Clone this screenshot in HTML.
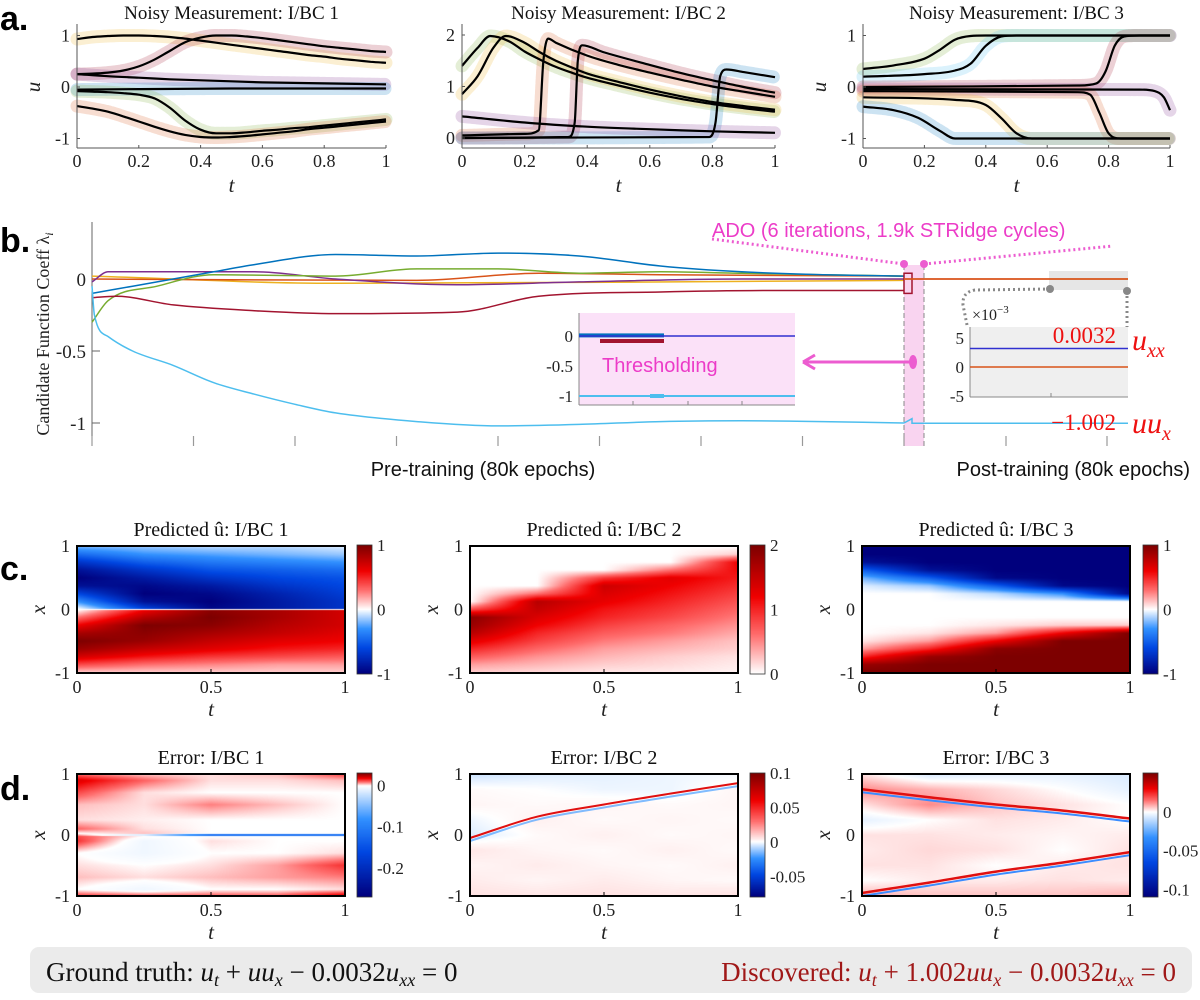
<!DOCTYPE html>
<html><head><meta charset="utf-8">
<style>
html,body{margin:0;padding:0;background:#fff;}
#root{position:relative;width:1200px;height:1000px;overflow:hidden;}
svg{position:absolute;left:0;top:0;}
canvas{position:absolute;}
.serif{font-family:"Liberation Serif",serif;}
.sans{font-family:"Liberation Sans",sans-serif;}
</style></head>
<body>
<div id="root">
<svg id="svg" width="1200" height="1000" viewBox="0 0 1200 1000">
  <g class="sans" font-weight="bold" font-size="34" fill="#000">
    <text x="0" y="30">a.</text>
    <text x="0" y="252">b.</text>
    <text x="0" y="580">c.</text>
    <text x="0" y="800">d.</text>
  </g>
  <g id="gA"></g>
  <g id="gB"></g>
  <g id="gCD"></g>
  <g>
    <rect x="30" y="947" width="1162" height="46" rx="9" fill="#ebebeb"/>
    <text x="46" y="981" class="serif" font-size="27" fill="#111">Ground truth: <tspan font-style="italic">u</tspan><tspan font-style="italic" font-size="18" dy="5">t</tspan><tspan dy="-5"> + </tspan><tspan font-style="italic">uu</tspan><tspan font-style="italic" font-size="18" dy="5">x</tspan><tspan dy="-5"> − 0.0032</tspan><tspan font-style="italic">u</tspan><tspan font-style="italic" font-size="18" dy="5">xx</tspan><tspan dy="-5"> = 0</tspan></text>
    <text x="1176" y="981" text-anchor="end" class="serif" font-size="27" fill="#a01818">Discovered: <tspan font-style="italic">u</tspan><tspan font-style="italic" font-size="18" dy="5">t</tspan><tspan dy="-5"> + 1.002</tspan><tspan font-style="italic">uu</tspan><tspan font-style="italic" font-size="18" dy="5">x</tspan><tspan dy="-5"> − 0.0032</tspan><tspan font-style="italic">u</tspan><tspan font-style="italic" font-size="18" dy="5">xx</tspan><tspan dy="-5"> = 0</tspan></text>
  </g>
</svg>
</div>
<script>
// ================= DATA =================
const a1Yellow=[[0,0.93],[0.05,0.97],[0.1,0.99],[0.15,1.0],[0.2,1.0],[0.25,0.99],[0.3,0.97],[0.35,0.94],[0.4,0.9],[0.45,0.86],[0.5,0.82],[0.55,0.78],[0.6,0.74],[0.65,0.7],[0.7,0.66],[0.75,0.62],[0.8,0.59],[0.85,0.55],[0.9,0.52],[0.95,0.49],[1,0.47]];
const a1Maroon=[[0,0.25],[0.05,0.26],[0.1,0.28],[0.15,0.32],[0.2,0.4],[0.25,0.53],[0.3,0.7],[0.35,0.87],[0.4,0.96],[0.45,1.0],[0.5,1.0],[0.55,0.98],[0.6,0.95],[0.65,0.91],[0.7,0.87],[0.75,0.83],[0.8,0.79],[0.85,0.76],[0.9,0.73],[0.95,0.7],[1,0.68]];
const a1Purple=[[0,0.25],[0.1,0.21],[0.2,0.18],[0.3,0.15],[0.4,0.13],[0.5,0.11],[0.6,0.09],[0.7,0.08],[0.8,0.07],[0.9,0.06],[1,0.05]];
const a1Blue=[[0,-0.05],[0.2,-0.04],[0.5,-0.03],[0.8,-0.03],[1,-0.03]];
const a1Green=[[0,-0.08],[0.05,-0.09],[0.1,-0.1],[0.15,-0.12],[0.2,-0.15],[0.25,-0.22],[0.3,-0.4],[0.35,-0.65],[0.4,-0.83],[0.45,-0.9],[0.5,-0.9],[0.55,-0.88],[0.6,-0.85],[0.65,-0.83],[0.7,-0.8],[0.75,-0.78],[0.8,-0.75],[0.85,-0.72],[0.9,-0.69],[0.95,-0.66],[1,-0.63]];
const a1Orange=[[0,-0.37],[0.05,-0.42],[0.1,-0.48],[0.15,-0.57],[0.2,-0.67],[0.25,-0.77],[0.3,-0.86],[0.35,-0.93],[0.4,-0.97],[0.45,-0.98],[0.5,-0.97],[0.55,-0.95],[0.6,-0.92],[0.65,-0.89],[0.7,-0.86],[0.75,-0.82],[0.8,-0.79],[0.85,-0.76],[0.9,-0.73],[0.95,-0.7],[1,-0.67]];

const a2Green=[[0,1.4],[0.05,1.75],[0.09,1.98],[0.15,1.88],[0.2,1.68],[0.25,1.52],[0.3,1.38],[0.35,1.27],[0.4,1.17],[0.5,1.02],[0.6,0.88],[0.7,0.76],[0.8,0.66],[0.9,0.58],[1,0.51]];
const a2Yellow=[[0,0.85],[0.05,1.2],[0.1,1.75],[0.14,1.98],[0.2,1.85],[0.25,1.66],[0.3,1.5],[0.35,1.37],[0.4,1.25],[0.5,1.09],[0.6,0.94],[0.7,0.81],[0.8,0.7],[0.9,0.62],[1,0.55]];
const a2Red=[[0,0.05],[0.2,0.08],[0.245,0.15],[0.26,1.5],[0.275,1.93],[0.3,1.85],[0.4,1.6],[0.5,1.42],[0.6,1.27],[0.7,1.13],[0.8,1.0],[0.9,0.9],[1,0.8]];
const a2Maroon=[[0,0.0],[0.34,0.02],[0.36,0.3],[0.37,1.5],[0.385,1.8],[0.45,1.67],[0.6,1.42],[0.7,1.26],[0.8,1.12],[0.9,0.99],[1,0.88]];
const a2Blue=[[0,0.0],[0.79,0.02],[0.81,0.3],[0.825,1.2],[0.845,1.33],[0.9,1.28],[1,1.18]];
const a2Purple=[[0,0.42],[0.2,0.3],[0.4,0.22],[0.6,0.17],[0.8,0.13],[1,0.1]];

const a3Green=[[0,0.35],[0.1,0.42],[0.2,0.55],[0.25,0.72],[0.3,0.92],[0.35,0.99],[0.4,1],[1,1]];
const a3Cyan=[[0,0.2],[0.2,0.25],[0.3,0.32],[0.35,0.45],[0.4,0.8],[0.45,0.98],[0.5,1],[1,1]];
const a3Maroon=[[0,0.0],[0.7,0.03],[0.76,0.07],[0.79,0.3],[0.82,0.8],[0.85,0.98],[0.9,1],[1,1]];
const a3Purple=[[0,-0.04],[0.9,-0.05],[0.95,-0.08],[0.98,-0.2],[1,-0.45]];
const a3Orange=[[0,-0.08],[0.7,-0.1],[0.74,-0.15],[0.77,-0.5],[0.8,-0.9],[0.84,-1],[1,-1]];
const a3Yellow=[[0,-0.2],[0.3,-0.25],[0.4,-0.35],[0.45,-0.6],[0.5,-0.9],[0.55,-1],[1,-1]];
const a3Blue=[[0,-0.38],[0.1,-0.45],[0.18,-0.6],[0.25,-0.85],[0.3,-1],[1,-1]];

const aXTicks=[0,0.2,0.4,0.6,0.8,1];
const aXTickLabels=["0","0.2","0.4","0.6","0.8","1"];
const a1YTicks=[1,0,-1];
const a2YTicks=[2,1,0];
const a3YTicks=[1,0,-1];

const bCyan=[[0,-0.05],[0.003,-0.25],[0.02,-0.4],[0.05,-0.5],[0.1,-0.6],[0.15,-0.72],[0.2,-0.8],[0.25,-0.87],[0.3,-0.93],[0.4,-0.99],[0.5,-1.02],[0.6,-1.01],[0.7,-0.99],[0.8,-0.985],[0.9,-0.99],[1,-1.0]];
const bBlue=[[0,-0.1],[0.05,-0.05],[0.1,0.0],[0.15,0.05],[0.2,0.1],[0.3,0.17],[0.4,0.16],[0.5,0.18],[0.6,0.16],[0.7,0.09],[0.8,0.05],[0.9,0.03],[1,0.02]];
const bGreen=[[0,-0.3],[0.02,-0.15],[0.08,-0.05],[0.15,0.03],[0.3,0.02],[0.4,0.07],[0.5,0.07],[0.6,0.04],[0.7,0.05],[0.8,0.04],[0.9,0.03],[1,0.02]];
const bMaroon=[[0,-0.13],[0.03,-0.12],[0.1,-0.18],[0.2,-0.22],[0.3,-0.24],[0.45,-0.23],[0.55,-0.12],[0.7,-0.09],[0.85,-0.08],[1,-0.08]];
const bPurple=[[0,-0.02],[0.02,0.05],[0.2,0.05],[0.3,0.0],[0.45,-0.04],[0.6,-0.02],[0.8,0.0],[1,0.0]];
const bOrange=[[0,0.0],[0.4,-0.01],[0.55,0.04],[0.7,0.03],[1,0.02]];
const bYellow=[[0,0.02],[0.3,-0.03],[1,-0.01]];
const bPostUxx=0.0032;
const bPostUUx=-1.002;
const bYTicks=[0,-0.5,-1];
const bInsetYTicks=[5,0,-5];

const hmT=[0,0.25,0.5,0.75,1];
const c1X=[1,0.875,0.75,0.625,0.5,0.375,0.25,0.125,0.01,-0.01,-0.125,-0.25,-0.375,-0.5,-0.625,-0.75,-0.875,-1];
const c1V=[[-0.2,-0.15,-0.1,-0.1,-0.05],[-0.45,-0.3,-0.25,-0.2,-0.15],[-0.7,-0.5,-0.4,-0.35,-0.3],[-0.9,-0.7,-0.55,-0.5,-0.45],[-1,-0.85,-0.7,-0.6,-0.55],[-0.9,-0.95,-0.85,-0.7,-0.6],[-0.6,-1,-0.95,-0.8,-0.65],[-0.3,-0.9,-1,-0.85,-0.7],[0,-0.6,-0.95,-0.85,-0.7],[0,0.6,0.95,0.85,0.7],[0.3,0.8,1,0.85,0.7],[0.6,1,0.95,0.8,0.7],[0.85,0.95,0.85,0.75,0.65],[1,0.9,0.75,0.65,0.6],[0.9,0.75,0.65,0.55,0.5],[0.7,0.55,0.45,0.4,0.35],[0.4,0.3,0.25,0.2,0.2],[0.1,0.1,0.1,0.1,0.1]];
const c2X=[1,0.875,0.75,0.625,0.5,0.375,0.25,0.125,0,-0.125,-0.25,-0.375,-0.5,-0.625,-0.75,-0.875,-1];
const c2V=[[0,0,0,0,0],[0,0,0,0,0.2],[0,0,0,0,1.2],[0,0,0,0.6,1.15],[0,0,0.9,1.3,1.05],[0,0,1.45,1.2,0.95],[0,0.6,1.35,1.1,0.85],[0,1.6,1.25,1.0,0.75],[0.8,1.5,1.1,0.9,0.65],[1.9,1.35,1.0,0.8,0.55],[1.8,1.2,0.85,0.65,0.45],[1.6,1.0,0.7,0.55,0.35],[1.3,0.85,0.55,0.4,0.25],[1.0,0.65,0.4,0.3,0.2],[0.7,0.45,0.3,0.2,0.12],[0.4,0.3,0.2,0.15,0.08],[0.2,0.15,0.1,0.08,0.05]];
const c3X=c2X;
const c3V=[[-1,-1,-1,-1,-1],[-1,-1,-1,-1,-1],[-0.9,-1,-1,-1,-1],[-0.5,-0.9,-1,-1,-1],[-0.2,-0.5,-0.95,-1,-1],[-0.05,-0.15,-0.5,-0.95,-1],[0,0,-0.1,-0.3,-0.95],[0,0,0,0,0],[0,0,0,0,0],[0,0,0,0,0],[0,0,0.05,0.1,0.1],[0,0.05,0.2,0.6,1],[0.05,0.2,0.6,1,1],[0.2,0.5,0.95,1,1],[0.5,0.9,1,1,1],[0.9,1,1,1,1],[1,1,1,1,1]];
const d1X=[1,0.9,0.7,0.5,0.25,0.1,0.025,0,-0.025,-0.1,-0.3,-0.5,-0.7,-0.9,-1];
const d1V=[[0.01,0.004,0.002,0.004,0.012],[0.02,0.01,0.002,0.002,0.004],[0.012,0.002,0,0,0],[0.004,0.002,0.008,0.004,0],[0.002,0.001,0,0,0],[0.01,0.002,0,0,0],[0,0.004,0,0,0],[0.006,-0.02,-0.17,-0.17,-0.17],[0.012,0,0,0,0],[0.014,-0.006,0.002,0,0],[0,-0.006,0,0,0.002],[0.002,0,0.002,0.006,0.014],[0.004,0.002,0.004,0.006,0.008],[0,-0.006,0,0,0.002],[0.012,0.01,0.01,0.01,0.02]];
const d2X=[1,0.75,0.5,0.25,0,-0.25,-0.5,-0.75,-1];
const d2V=[[-0.006,-0.004,-0.003,-0.002,-0.001],[0.001,0,-0.002,-0.002,0.002],[0.002,0.001,0.002,0.001,0.002],[-0.002,0.003,0.001,0.002,0.001],[-0.004,0.001,0.003,0.001,0.002],[0.005,0.002,0.001,0.003,0.001],[0.002,0.004,0.002,0.001,0.003],[0.004,0.002,0.004,0.002,0.001],[0.006,0.005,0.006,0.005,0.006]];
const d3X=d2X;
const d3V=[[0.003,-0.006,-0.004,-0.004,-0.006],[0.012,0.008,0.004,0,-0.004],[0.003,0.012,0.006,0.003,0],[-0.004,0,0.003,0.002,0],[0.003,0.003,0.002,0.001,0.002],[0.002,0.004,0.003,0,0.003],[0.003,0.003,0,0.002,0.003],[0,0.002,0.002,0.003,0.002],[0.008,0.006,0.006,0.006,0.008]];
const d2Front=[-0.05,0.3,0.5,0.68,0.85];
const d3FrontUpper=[0.75,0.62,0.5,0.4,0.27];
const d3FrontLower=[-0.95,-0.78,-0.6,-0.45,-0.28];

// ================= HELPERS =================
const NS="http://www.w3.org/2000/svg";
function mk(parent,tag,attrs,text){const e=document.createElementNS(NS,tag);for(const k in attrs)e.setAttribute(k,attrs[k]);if(text!==undefined)e.textContent=text;parent.appendChild(e);return e;}
function smoothPath(pts){
  const n=pts.length;if(n<3)return linePath(pts);
  const dx=[],dy=[],m=[];
  for(let i=0;i<n-1;i++){dx.push(pts[i+1][0]-pts[i][0]);dy.push(pts[i+1][1]-pts[i][1]);m.push(dy[i]/dx[i]);}
  const tg=[m[0]];
  for(let i=1;i<n-1;i++){tg.push(m[i-1]*m[i]<=0?0:(m[i-1]+m[i])/2);}
  tg.push(m[n-2]);
  for(let i=0;i<n-1;i++){
    if(m[i]===0){tg[i]=0;tg[i+1]=0;continue;}
    const a=tg[i]/m[i],b=tg[i+1]/m[i],s=a*a+b*b;
    if(s>9){const t=3/Math.sqrt(s);tg[i]=t*a*m[i];tg[i+1]=t*b*m[i];}
  }
  let d="M"+pts[0][0].toFixed(1)+","+pts[0][1].toFixed(1);
  for(let i=0;i<n-1;i++){
    const h=dx[i]/3;
    d+=" C"+(pts[i][0]+h).toFixed(1)+","+(pts[i][1]+tg[i]*h).toFixed(1)+" "+(pts[i+1][0]-h).toFixed(1)+","+(pts[i+1][1]-tg[i+1]*h).toFixed(1)+" "+pts[i+1][0].toFixed(1)+","+pts[i+1][1].toFixed(1);
  }
  return d;
}
function linePath(pts){return pts.map((p,i)=>(i?"L":"M")+p[0].toFixed(1)+","+p[1].toFixed(1)).join(" ");}
const COL={blue:"#0072BD",orange:"#D95319",yellow:"#EDB120",purple:"#7E2F8E",green:"#77AC30",cyan:"#4DBEEE",maroon:"#A2142F"};

// ================= PANEL A =================
const gA=document.getElementById("gA");
const aPlots=[
 {x0:77,x1:386,y0:87,k:51.5,title:"Noisy Measurement: I/BC 1",yt:a1YTicks,series:[["yellow",a1Yellow],["maroon",a1Maroon],["purple",a1Purple],["blue",a1Blue],["green",a1Green],["orange",a1Orange]]},
 {x0:462,x1:775,y0:138,k:51.5,title:"Noisy Measurement: I/BC 2",yt:a2YTicks,series:[["green",a2Green],["yellow",a2Yellow],["orange",a2Red],["maroon",a2Maroon],["blue",a2Blue],["purple",a2Purple]]},
 {x0:863,x1:1170,y0:87,k:51.5,title:"Noisy Measurement: I/BC 3",yt:a3YTicks,series:[["green",a3Green],["cyan",a3Cyan],["maroon",a3Maroon],["purple",a3Purple],["orange",a3Orange],["yellow",a3Yellow],["blue",a3Blue]]}
];
aPlots.forEach((P,pi)=>{
  const g=mk(gA,"g",{});
  
  
  const sx=t=>P.x0+t*(P.x1-P.x0), sy=u=>P.y0-u*P.k;
  const tt=mk(g,"text",{x:(P.x0+P.x1)/2,y:19,"text-anchor":"middle","font-size":19,class:"serif",fill:"#111"},P.title);
  
  
  P.series.forEach(([c,data])=>{
    const pts=data.map(p=>[sx(p[0]),sy(p[1])]);
    const band=mk(g,"path",{d:smoothPath(pts),fill:"none",stroke:COL[c],"stroke-width":13,"stroke-opacity":0.2,"stroke-linecap":"round","stroke-dasharray":"3,2"});
    
    
  });
  P.series.forEach(([c,data])=>{
    const pts=data.map(p=>[sx(p[0]),sy(p[1])]);
    const ln=mk(g,"path",{d:smoothPath(pts),fill:"none",stroke:"#000","stroke-width":2.2});
    
    
  });
  const axB=148;
  mk(g,"line",{x1:P.x0,y1:axB,x2:P.x1,y2:axB,stroke:"#555","stroke-width":1});
  mk(g,"line",{x1:P.x0,y1:24,x2:P.x0,y2:axB,stroke:"#555","stroke-width":1});
  aXTicks.forEach((t,i)=>{
    mk(g,"line",{x1:sx(t),y1:axB,x2:sx(t),y2:axB-3,stroke:"#555"});
    const l=mk(g,"text",{x:sx(t),y:167,"text-anchor":"middle","font-size":18,class:"serif",fill:"#222"},aXTickLabels[i]);
    
    
  });
  P.yt.forEach(u=>{
    mk(g,"line",{x1:P.x0,y1:sy(u),x2:P.x0+3,y2:sy(u),stroke:"#555"});
    const l=mk(g,"text",{x:P.x0-7,y:sy(u)+6,"text-anchor":"end","font-size":18,class:"serif",fill:"#222"},String(u));
    
    
  });
  const xl=mk(g,"text",{x:(P.x0+P.x1)/2,y:192,"text-anchor":"middle","font-size":21,"font-style":"italic",class:"serif",fill:"#222"},"t");
  
  
  if(pi!==1){
    const yl=mk(g,"text",{x:P.x0-42,y:P.y0+5,"text-anchor":"middle","font-size":21,"font-style":"italic",class:"serif",fill:"#222",transform:"rotate(-90 "+(P.x0-42)+" "+(P.y0)+")"},"u");
    
    
  }
});

// ================= PANEL B =================
const gB=document.getElementById("gB");
const bx=f=>92+f*812, by=v=>279-v*144;
const band=mk(gB,"rect",{x:904,y:265,width:20,height:181,fill:"#f7c9ec",opacity:0.8});


[904,924].forEach(x=>{const l=mk(gB,"line",{x1:x,y1:265,x2:x,y2:446,stroke:"#888","stroke-dasharray":"5,3"});});
mk(gB,"line",{x1:92,y1:222,x2:92,y2:446,stroke:"#666"});
for(let i=0;i<=8;i++){mk(gB,"line",{x1:92+i*101.5,y1:436,x2:92+i*101.5,y2:446,stroke:"#999","stroke-width":1.2});}
[1006,1107].forEach(x=>mk(gB,"line",{x1:x,y1:436,x2:x,y2:446,stroke:"#999","stroke-width":1.2}));
bYTicks.forEach(v=>{
  mk(gB,"line",{x1:92,y1:by(v),x2:100,y2:by(v),stroke:"#666"});
  const l=mk(gB,"text",{x:86,y:by(v)+7,"text-anchor":"end","font-size":19,class:"serif",fill:"#222"},String(v));
  
  
});
const byl=mk(gB,"text",{x:49,y:334,"text-anchor":"middle","font-size":18,class:"serif",fill:"#222",transform:"rotate(-90 49 334)"},"Candidate Function Coeff λ");


mk(byl,"tspan",{"font-size":12,"font-style":"italic",dy:4},"i");
const bSeries=[["yellow",bYellow],["orange",bOrange],["purple",bPurple],["green",bGreen],["maroon",bMaroon],["blue",bBlue],["cyan",bCyan]];
bSeries.forEach(([c,data])=>{
  const p=mk(gB,"path",{d:smoothPath(data.map(q=>[bx(q[0]),by(q[1])])),fill:"none",stroke:COL[c],"stroke-width":1.5});
  
  
});
mk(gB,"rect",{x:904,y:by(0.04),width:8,height:by(-0.1)-by(0.04),fill:"none",stroke:COL.maroon,"stroke-width":1.5});
const postO=mk(gB,"line",{x1:904,y1:by(0),x2:1128,y2:by(0),stroke:COL.orange,"stroke-width":1.8});


const postC=mk(gB,"path",{d:"M904,"+by(-1.0)+" L912,"+by(-0.97)+" L912,"+by(bPostUUx)+" L1128,"+by(bPostUUx),fill:"none",stroke:COL.cyan,"stroke-width":1.5});


const ado=mk(gB,"text",{x:712,y:237,"font-size":20,class:"sans",fill:"#ec3cc8"},"ADO (6 iterations, 1.9k STRidge cycles)");


mk(gB,"line",{x1:712,y1:239,x2:904,y2:264,stroke:"#ec5cd0","stroke-width":3,"stroke-dasharray":"2,3"});
mk(gB,"line",{x1:924,y1:264,x2:1113,y2:246,stroke:"#ec5cd0","stroke-width":3,"stroke-dasharray":"2,3"});
mk(gB,"circle",{cx:904,cy:264,r:4,fill:"#ec5cd0"});
mk(gB,"circle",{cx:924,cy:264,r:4,fill:"#ec5cd0"});
const ins=mk(gB,"g",{});


const iy=v=>336-v*60;
mk(ins,"rect",{x:579,y:313,width:216,height:92,fill:"#fbe1f8"});
mk(ins,"line",{x1:579,y1:313,x2:579,y2:405,stroke:"#888"});
mk(ins,"line",{x1:579,y1:405,x2:795,y2:405,stroke:"#888"});
[633,688,742].forEach(x=>mk(ins,"line",{x1:x,y1:405,x2:x,y2:401,stroke:"#888"}));
bYTicks.forEach(v=>{const l=mk(ins,"text",{x:573,y:iy(v)+6,"text-anchor":"end","font-size":17,class:"serif",fill:"#222"},String(v));});
mk(ins,"rect",{x:579,y:iy(0.01)-2,width:85,height:4,fill:COL.blue});
mk(ins,"rect",{x:600,y:iy(-0.05),width:64,height:4,fill:COL.maroon});
mk(ins,"line",{x1:579,y1:iy(0),x2:795,y2:iy(0),stroke:"#3030d0","stroke-width":1.5});
mk(ins,"line",{x1:579,y1:iy(-1),x2:795,y2:iy(-1),stroke:COL.cyan,"stroke-width":2});
mk(ins,"rect",{x:650,y:iy(-1)-2,width:14,height:4,fill:COL.cyan});
const th=mk(ins,"text",{x:602,y:372,"font-size":20,class:"sans",fill:"#ec3cc8"},"Thresholding");


const arr=mk(gB,"g",{});


mk(arr,"line",{x1:806,y1:362,x2:913,y2:362,stroke:"#ec5cd0","stroke-width":3});
mk(arr,"path",{d:"M803,362 L815,355 M803,362 L815,369",stroke:"#ec5cd0","stroke-width":3,fill:"none"});
mk(arr,"ellipse",{cx:913,cy:362,rx:4,ry:7,fill:"#ec5cd0"});
const zi=mk(gB,"g",{});


mk(zi,"rect",{x:1049,y:271,width:79,height:19,fill:"#e6e6e6"});
mk(zi,"line",{x1:1049,y1:by(0),x2:1128,y2:by(0),stroke:COL.orange,"stroke-width":1.8});
mk(zi,"path",{d:"M1050,289 L975,290 Q962,292 963,305 L967,325",fill:"none",stroke:"#888","stroke-width":3,"stroke-dasharray":"2,3"});
mk(zi,"path",{d:"M1127,291 L1127,327",fill:"none",stroke:"#888","stroke-width":3,"stroke-dasharray":"2,3"});
mk(zi,"circle",{cx:1050,cy:289,r:4,fill:"#888"});
mk(zi,"circle",{cx:1127,cy:291,r:4,fill:"#888"});
const zy=v=>367-v*5.8;
mk(zi,"rect",{x:970,y:327,width:158,height:70,fill:"#efefef"});
mk(zi,"line",{x1:970,y1:327,x2:970,y2:397,stroke:"#888"});
mk(zi,"line",{x1:970,y1:397,x2:1128,y2:397,stroke:"#888"});
mk(zi,"line",{x1:1051,y1:397,x2:1051,y2:393,stroke:"#888"});
bInsetYTicks.forEach(v=>{const l=mk(zi,"text",{x:964,y:zy(v)+6,"text-anchor":"end","font-size":17,class:"serif",fill:"#222"},String(v));});
mk(zi,"line",{x1:970,y1:zy(bPostUxx*1000),x2:1128,y2:zy(bPostUxx*1000),stroke:"#3030d0","stroke-width":1.5});
mk(zi,"line",{x1:970,y1:zy(0),x2:1128,y2:zy(0),stroke:COL.orange,"stroke-width":1.5});
const sc=mk(zi,"text",{x:972,y:320,"font-size":16,class:"serif",fill:"#222"},"×10");
mk(sc,"tspan",{dy:-7,"font-size":11},"−3");


const v1=mk(gB,"text",{x:1116,y:343,"text-anchor":"end","font-size":23,class:"serif",fill:"#ee1111"},bPostUxx.toFixed(4));


const v2=mk(gB,"text",{x:1116,y:430,"text-anchor":"end","font-size":23,class:"serif",fill:"#ee1111"},"−"+Math.abs(bPostUUx).toFixed(3));


const t1=mk(gB,"text",{x:1132,y:350,"font-size":30,"font-style":"italic",class:"serif",fill:"#ee1111"},"u");
mk(t1,"tspan",{"font-size":20,dy:7},"xx");


const t2=mk(gB,"text",{x:1132,y:433,"font-size":30,"font-style":"italic",class:"serif",fill:"#ee1111"},"uu");
mk(t2,"tspan",{"font-size":20,dy:7},"x");


const pre=mk(gB,"text",{x:483,y:476,"text-anchor":"middle","font-size":20,class:"sans",fill:"#111"},"Pre-training (80k epochs)");


const post=mk(gB,"text",{x:1190,y:476,"text-anchor":"end","font-size":20,class:"sans",fill:"#111"},"Post-training (80k epochs)");



// ================= PANELS C & D =================
const stops=[[-1,[0,0,125]],[-0.6,[0,70,225]],[-0.3,[50,145,255]],[0,[255,255,255]],[0.3,[255,110,110]],[0.6,[240,0,0]],[1,[125,0,0]]];
function cmap(s){s=Math.max(-1,Math.min(1,s));for(let i=0;i<stops.length-1;i++){const a=stops[i],b=stops[i+1];if(s<=b[0]){const f=(s-a[0])/(b[0]-a[0]);return a[1].map((c,j)=>Math.round(c+(b[1][j]-c)*f));}}return stops[stops.length-1][1];}
function norm(v,vmin,vmax,mode){if(mode==="pos")return v/vmax;return v>=0?(vmax>0?v/vmax:0):v/(-vmin);}
function sample(xs,V,t,x){
  let j=0;while(j<hmT.length-2&&t>hmT[j+1])j++;
  const ft=(t-hmT[j])/(hmT[j+1]-hmT[j]);
  let i=0;while(i<xs.length-2&&x<xs[i+1])i++;
  const fx=(xs[i]-x)/(xs[i]-xs[i+1]);
  const a=V[i][j]*(1-ft)+V[i][j+1]*ft, b=V[i+1][j]*(1-ft)+V[i+1][j+1]*ft;
  return a*(1-fx)+b*fx;
}
const root=document.getElementById("root");
const gCD=document.getElementById("gCD");
const cols=[{x0:77,cb:357},{x0:470,cb:750},{x0:862,cb:1143}];
const W=268;
const maps=[
 {row:"c",col:0,y0:546,h:127,xs:c1X,V:c1V,vmin:-1,vmax:1,mode:"sym",title:"Predicted û: I/BC 1",cbt:[[1,"1"],[0,"0"],[-1,"-1"]]},
 {row:"c",col:1,y0:546,h:127,xs:c2X,V:c2V,vmin:0,vmax:2,mode:"pos",title:"Predicted û: I/BC 2",cbt:[[2,"2"],[1,"1"],[0,"0"]]},
 {row:"c",col:2,y0:546,h:127,xs:c3X,V:c3V,vmin:-1,vmax:1,mode:"sym",title:"Predicted û: I/BC 3",cbt:[[1,"1"],[0,"0"],[-1,"-1"]]},
 {row:"d",col:0,y0:774,h:122,xs:d1X,V:d1V,vmin:-0.27,vmax:0.03,mode:"sym",title:"Error:  I/BC 1",cbt:[[0,"0"],[-0.1,"-0.1"],[-0.2,"-0.2"]]},
 {row:"d",col:1,y0:774,h:122,xs:d2X,V:d2V,vmin:-0.08,vmax:0.1,mode:"sym",title:"Error:  I/BC 2",cbt:[[0.1,"0.1"],[0.05,"0.05"],[0,"0"],[-0.05,"-0.05"]]},
 {row:"d",col:2,y0:774,h:122,xs:d3X,V:d3V,vmin:-0.11,vmax:0.05,mode:"sym",title:"Error:  I/BC 3",cbt:[[0,"0"],[-0.05,"-0.05"],[-0.1,"-0.1"]]}
];
maps.forEach((M,mi)=>{
  const C=cols[M.col];
  const cv=document.createElement("canvas");
  cv.width=W;cv.height=M.h;cv.style.left=C.x0+"px";cv.style.top=M.y0+"px";
  
  
  root.insertBefore(cv,document.getElementById("svg"));
  const ctx=cv.getContext("2d");const img=ctx.createImageData(W,M.h);
  for(let py=0;py<M.h;py++){const x=1-2*py/(M.h-1);for(let px=0;px<W;px++){const t=px/(W-1);
    const v=sample(M.xs,M.V,t,x);const c=cmap(norm(v,M.vmin,M.vmax,M.mode));const k=(py*W+px)*4;
    img.data[k]=c[0];img.data[k+1]=c[1];img.data[k+2]=c[2];img.data[k+3]=255;}}
  ctx.putImageData(img,0,0);
  const cb=document.createElement("canvas");const ch=M.h+2;
  cb.width=15;cb.height=ch;cb.style.left=C.cb+"px";cb.style.top=(M.y0-1)+"px";
  
  
  root.insertBefore(cb,document.getElementById("svg"));
  const cx=cb.getContext("2d");
  for(let py=0;py<ch;py++){const v=M.vmax-(M.vmax-M.vmin)*py/(ch-1);const c=cmap(norm(v,M.vmin,M.vmax,M.mode));cx.fillStyle="rgb("+c.join(",")+")";cx.fillRect(0,py,15,1);}
});
const svg=document.getElementById("svg");
root.appendChild(svg);
maps.forEach((M,mi)=>{
  const C=cols[M.col];
  const g=mk(gCD,"g",{});
  
  
  const hx=t=>C.x0+t*W, hy=x=>M.y0+(1-x)/2*M.h;
  if(M===maps[4]){
    const p=d2Front.map((x,i)=>[hx(hmT[i]),hy(x)]);
    const s1=mk(g,"path",{d:smoothPath(p.map(q=>[q[0],q[1]+3])),fill:"none",stroke:"#4aa0ff","stroke-width":2,"stroke-opacity":0.7});
    
    const s2=mk(g,"path",{d:smoothPath(p),fill:"none",stroke:"#e01010","stroke-width":2});
    
  }
  if(M===maps[5]){
    [d3FrontUpper,d3FrontLower].forEach(F=>{
      const p=F.map((x,i)=>[hx(hmT[i]),hy(x)]);
      const s1=mk(g,"path",{d:smoothPath(p.map(q=>[q[0],q[1]+3])),fill:"none",stroke:"#3a8cff","stroke-width":2});
      
      const s2=mk(g,"path",{d:smoothPath(p),fill:"none",stroke:"#e01010","stroke-width":2.5});
      
    });
  }
  mk(g,"rect",{x:C.x0,y:M.y0,width:W,height:M.h,fill:"none",stroke:"#000","stroke-width":2});
  mk(g,"rect",{x:C.cb,y:M.y0-1,width:15,height:M.h+2,fill:"none",stroke:"#333","stroke-width":0.8});
  const tt=mk(g,"text",{x:C.x0+W/2,y:M.y0-10,"text-anchor":"middle","font-size":20,class:"serif",fill:"#111"},M.title);
  
  [[0,"0"],[0.5,"0.5"],[1,"1"]].forEach(([t,l])=>{
    mk(g,"line",{x1:hx(t),y1:M.y0+M.h,x2:hx(t),y2:M.y0+M.h-4,stroke:"#000"});
    const e=mk(g,"text",{x:hx(t),y:M.y0+M.h+20,"text-anchor":"middle","font-size":18,class:"serif",fill:"#222"},l);
    
  });
  [[1,"1"],[0,"0"],[-1,"-1"]].forEach(([x,l])=>{
    const e=mk(g,"text",{x:C.x0-7,y:hy(x)+6,"text-anchor":"end","font-size":18,class:"serif",fill:"#222"},l);
    
  });
  const xt=mk(g,"text",{x:C.x0+W/2,y:M.y0+M.h+43,"text-anchor":"middle","font-size":21,"font-style":"italic",class:"serif",fill:"#222"},"t");
  
  const yx=C.x0-38, yy=M.y0+M.h/2;
  const yt=mk(g,"text",{x:yx,y:yy+6,"text-anchor":"middle","font-size":21,"font-style":"italic",class:"serif",fill:"#222",transform:"rotate(-90 "+yx+" "+yy+")"},"x");
  
  M.cbt.forEach(([v,l])=>{
    const py=M.y0-1+(M.vmax-v)/(M.vmax-M.vmin)*(M.h+2);
    const e=mk(g,"text",{x:C.cb+20,y:py+6,"font-size":17,class:"serif",fill:"#222"},l);
    
  });
});
</script>
</body></html>
